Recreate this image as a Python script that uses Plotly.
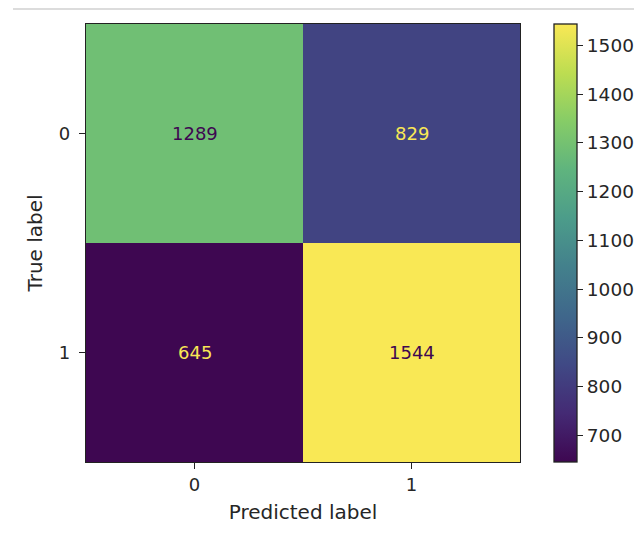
import plotly.graph_objects as go

pred_labels = [0, 1]
true_labels = [0, 1]
counts = [[1289, 829],
          [645, 1544]]
cbar_ticks = [700, 800, 900, 1000, 1100, 1200, 1300, 1400, 1500]

# viridis, re-expressed as the screenshot shows it (sRGB values encoded as Display-P3)
VIRIDIS = ['#440154', '#482878', '#3e4989', '#31688e', '#26828e',
           '#1f9e89', '#35b779', '#6ece58', '#b5de2b', '#fde725']


def to_p3(hexcol):
    rgb = [int(hexcol[i:i + 2], 16) / 255 for i in (1, 3, 5)]
    lin = [c / 12.92 if c <= 0.04045 else ((c + 0.055) / 1.055) ** 2.4 for c in rgb]
    m = [[0.8225, 0.1774, 0.0],
         [0.0332, 0.9669, 0.0],
         [0.0171, 0.0724, 0.9108]]
    out = []
    for row in m:
        v = sum(a * b for a, b in zip(row, lin))
        v = min(max(v, 0), 1)
        v = 12.92 * v if v <= 0.0031308 else 1.055 * v ** (1 / 2.4) - 0.055
        out.append(round(v * 255))
    return "rgb(%d,%d,%d)" % tuple(out)


scale = [[i / (len(VIRIDIS) - 1), to_p3(c)] for i, c in enumerate(VIRIDIS)]
dark, light = to_p3(VIRIDIS[0]), to_p3(VIRIDIS[-1])

zmin = min(min(r) for r in counts)
zmax = max(max(r) for r in counts)
mid = (zmin + zmax) / 2

# page body has an 8px margin, so the figure is drawn 8px in from the corner
W, H = 634, 534
ml, mr, mt, mb = 78, 122, 16, 80
pw = W - ml - mr
ph = H - mt - mb

tick_font = dict(family="DejaVu Sans", size=18, color="#262626")
cbar_font = dict(family="DejaVu Sans", size=18.5, color="#262626")
title_font = dict(family="DejaVu Sans", size=20, color="#262626")

fig = go.Figure()
fig.add_trace(go.Heatmap(
    x=pred_labels, y=true_labels, z=counts,
    colorscale=scale, zmin=zmin, zmax=zmax,
    showscale=True,
    colorbar=dict(
        x=1 + 34 / pw, xanchor="left", xpad=0, ypad=0,
        y=0.5, yanchor="middle", len=1, lenmode="fraction",
        thickness=23, thicknessmode="pixels",
        outlinewidth=1.3, outlinecolor="#222",
        tickvals=cbar_ticks, ticks="outside", ticklen=6,
        tickcolor="#222", tickwidth=1.2, tickfont=cbar_font,
    ),
    hoverinfo="skip",
))

for i, t in enumerate(true_labels):
    for j, p in enumerate(pred_labels):
        v = counts[i][j]
        fig.add_annotation(x=p, y=t, text=str(v), showarrow=False,
                           font=dict(family="DejaVu Sans", size=18,
                                     color=dark if v > mid else light))

axis_common = dict(
    showgrid=False, zeroline=False, showline=True, linecolor="#222",
    linewidth=1.3, mirror=True, ticks="outside", ticklen=6, tickwidth=1.2,
    tickcolor="#222", tickfont=tick_font, tickvals=[0, 1],
)
fig.update_xaxes(range=[-0.5, 1.5], automargin=False,
                 title=dict(text="Predicted label", font=title_font, standoff=11),
                 **axis_common)
fig.update_yaxes(range=[1.5, -0.5], ticklabelstandoff=5, automargin=False,
                 title=dict(text="True label", font=title_font, standoff=10),
                 **axis_common)

fig.add_shape(type="line", xref="paper", yref="paper",
              x0=(5 - ml) / pw, x1=(W - ml) / pw,
              y0=1 + (mt - 1) / ph, y1=1 + (mt - 1) / ph,
              line=dict(color="#dcdcdc", width=2))

fig.update_layout(
    width=W, height=H,
    margin=dict(l=ml, r=mr, t=mt, b=mb, autoexpand=False),
    paper_bgcolor="white", plot_bgcolor="white",
    font=tick_font, showlegend=False,
)
fig.write_html("out.html")
